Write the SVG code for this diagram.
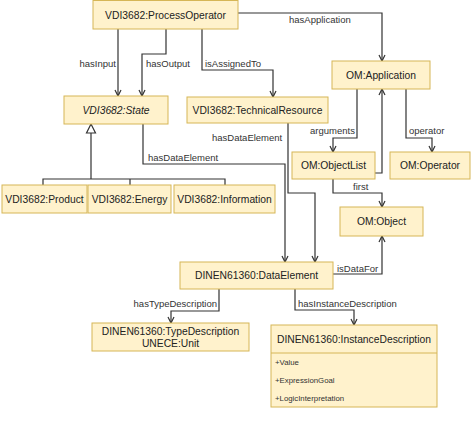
<svg xmlns="http://www.w3.org/2000/svg" width="474" height="429" viewBox="0 0 474 429">
<defs>
<marker id="arr" markerWidth="8" markerHeight="8" viewBox="0 0 8 8" refX="7" refY="4" orient="auto" markerUnits="userSpaceOnUse">
<path d="M1,1 L7,4 L1,7" fill="none" stroke="#333" stroke-width="1.2"/>
</marker>
</defs>
<style>
.n rect{fill:#fff2cc;stroke:#d6b656;stroke-width:1}
.n text{font-family:"Liberation Sans",Arial,sans-serif;font-size:10.3px;fill:#222;text-anchor:middle}
.n text.at{font-size:7.8px;fill:#333;text-anchor:start}
.e path{fill:none;stroke:#333;stroke-width:1.2}
.e .a{marker-end:url(#arr)}
.l{font-family:"Liberation Sans",Arial,sans-serif;font-size:9.5px;fill:#333}
</style>
<rect width="474" height="429" fill="#fff"/>
<g id="edges" class="e">
<path class="a" d="M118,29 V96"/>
<path class="a" d="M166,29 V54 H142 V96"/>
<path class="a" d="M202,29 V70 H273 V97"/>
<path class="a" d="M238,13 H382 V61"/>
<path d="M91,133 V179 M43,185 V179 H225 V185 M130,179 V185"/>
<polygon points="91,124 86.5,133 95.5,133" fill="#fff" stroke="#333" stroke-width="1.2"/>
<path class="a" d="M143,124 V164 H285 V262"/>
<path class="a" d="M288,123 V193 H315 V262"/>
<path class="a" d="M357,89 V138 H333 V152"/>
<path class="a" d="M375,173 H382 V89"/>
<path class="a" d="M406,89 V138 H432 V152"/>
<path class="a" d="M333,179 V193 H382 V207"/>
<path class="a" d="M333,274 H382 V236"/>
<path class="a" d="M219,289 V311 H171 V323"/>
<path class="a" d="M295,289 V310 H354 V325"/>
<text class="l" x="116" y="67" text-anchor="end">hasInput</text>
<text class="l" x="146" y="67">hasOutput</text>
<text class="l" x="205" y="67">isAssignedTo</text>
<text class="l" x="289" y="23">hasApplication</text>
<text class="l" x="148" y="161">hasDataElement</text>
<text class="l" x="212" y="141">hasDataElement</text>
<text class="l" x="310" y="133.5">arguments</text>
<text class="l" x="409" y="133.5">operator</text>
<text class="l" x="353" y="189.5">first</text>
<text class="l" x="337" y="272">isDataFor</text>
<text class="l" x="217" y="307" text-anchor="end">hasTypeDescription</text>
<text class="l" x="298" y="307">hasInstanceDescription</text>
</g>
<g id="ProcessOperator" class="n"><rect x="93" y="0.5" width="145" height="28.5"/><text x="165.5" y="18.6">VDI3682:ProcessOperator</text></g>
<g id="Application" class="n"><rect x="332" y="61" width="98" height="28"/><text x="381" y="78.6">OM:Application</text></g>
<g id="TechnicalResource" class="n"><rect x="187" y="97" width="141" height="26"/><text x="257.5" y="113.6">VDI3682:TechnicalResource</text></g>
<g id="State" class="n"><rect x="64" y="96" width="104" height="28"/><text x="116" y="113.6" font-style="italic">VDI3682:State</text></g>
<g id="Product" class="n"><rect x="2" y="185" width="85" height="28"/><text x="44.5" y="202.6">VDI3682:Product</text></g>
<g id="Energy" class="n"><rect x="88" y="185" width="83" height="28"/><text x="129.5" y="202.6">VDI3682:Energy</text></g>
<g id="Information" class="n"><rect x="174" y="185" width="101" height="28"/><text x="224.5" y="202.6">VDI3682:Information</text></g>
<g id="ObjectList" class="n"><rect x="292" y="152" width="83" height="27"/><text x="333.5" y="169">OM:ObjectList</text></g>
<g id="Operator" class="n"><rect x="390" y="152" width="80" height="27"/><text x="430" y="169">OM:Operator</text></g>
<g id="Object" class="n"><rect x="340" y="207" width="83" height="29"/><text x="381.5" y="225">OM:Object</text></g>
<g id="DataElement" class="n"><rect x="180" y="262" width="153" height="27"/><text x="256.5" y="279">DINEN61360:DataElement</text></g>
<g id="TypeDescription" class="n"><rect x="92" y="323" width="157" height="28"/><text x="170.5" y="334.6">DINEN61360:TypeDescription</text><text x="170.5" y="346.6">UNECE:Unit</text></g>
<g id="InstanceDescription" class="n"><rect x="271" y="325" width="166" height="82"/><line x1="271" y1="353" x2="437" y2="353" stroke="#d6b656"/><text x="354" y="343">DINEN61360:InstanceDescription</text>
<text class="at" x="275" y="364.8">+Value</text>
<text class="at" x="275" y="382.8">+ExpressionGoal</text>
<text class="at" x="275" y="400.8">+LogicInterpretation</text></g>
</svg>
